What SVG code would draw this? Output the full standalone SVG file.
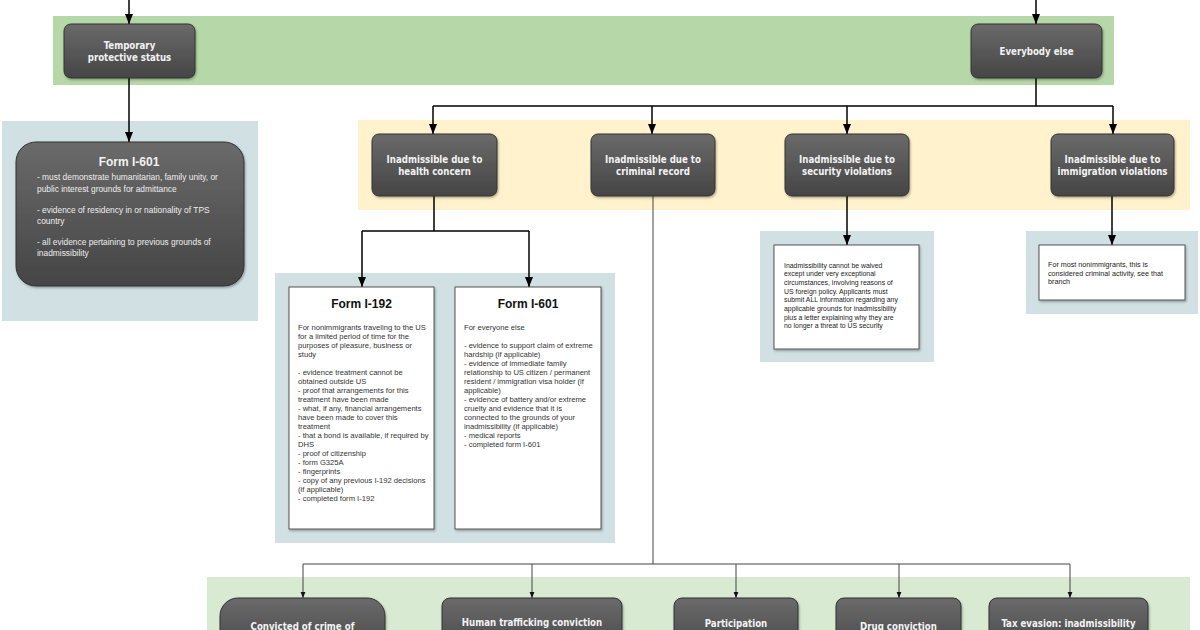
<svg xmlns="http://www.w3.org/2000/svg" width="1200" height="630" viewBox="0 0 1200 630">
<defs>
<linearGradient id="dk" x1="0" y1="0" x2="0" y2="1">
<stop offset="0" stop-color="#6a6a6a"/>
<stop offset="1" stop-color="#454545"/>
</linearGradient>
<filter id="sh" x="-10%" y="-10%" width="130%" height="130%">
<feDropShadow dx="1" dy="1.5" stdDeviation="1" flood-color="#000" flood-opacity="0.3"/>
</filter>
<marker id="ar" viewBox="0 0 10 10" refX="10" refY="5" markerWidth="10" markerHeight="10" markerUnits="userSpaceOnUse" orient="auto">
<path d="M0,1 L10,5 L0,9 Z" fill="#000"/>
</marker>
<marker id="ars" viewBox="0 0 10 10" refX="10" refY="5" markerWidth="6" markerHeight="6" markerUnits="userSpaceOnUse" orient="auto">
<path d="M0,1 L10,5 L0,9 Z" fill="#111"/>
</marker>
</defs>
<style>
.dk{fill:url(#dk);stroke:#333;stroke-width:1;filter:url(#sh)}
.wb{fill:#fff;stroke:#555;stroke-width:1;filter:url(#sh)}
.nl{font-family:"DejaVu Sans Condensed","DejaVu Sans",sans-serif;font-weight:bold;font-size:9.6px;fill:#f2f2f2;text-anchor:middle}
.bt{font-family:"Liberation Sans",Arial,sans-serif;font-size:7.6px;fill:#333}
.st{font-family:"Liberation Sans",Arial,sans-serif;font-size:6.9px;fill:#222}
.wt{font-family:"Liberation Sans",Arial,sans-serif;font-size:8.4px;fill:#eee}
.tt{font-family:"Liberation Sans",Arial,sans-serif;font-weight:bold;font-size:12px;fill:#111;text-anchor:middle}
.c{fill:none;stroke:#000;stroke-width:1.5}
.cs{fill:none;stroke:#444;stroke-width:1}
</style>
<g id="panels">
<rect x="53" y="16" width="1061" height="69" fill="#b6d7a8"/>
<rect x="358" y="120" width="832" height="90" fill="#fff2cc"/>
<rect x="2" y="121" width="256" height="200" fill="#d0e0e3"/>
<rect x="275" y="273" width="340" height="270" fill="#d0e0e3"/>
<rect x="760" y="231" width="174" height="131" fill="#d0e0e3"/>
<rect x="1026" y="231" width="172" height="83" fill="#d0e0e3"/>
<rect x="207" y="577" width="983" height="60" fill="#d9ead3"/>
</g>
<g id="connectors">
<path class="c" d="M129,0 V24" marker-end="url(#ar)"/>
<path class="c" d="M1036,0 V24" marker-end="url(#ar)"/>
<path class="c" d="M129,78 V142" marker-end="url(#ar)"/>
<path class="c" d="M1036,78 V106 M433,106 H1113"/>
<path class="c" d="M433,106 V134" marker-end="url(#ar)"/>
<path class="c" d="M652,106 V134" marker-end="url(#ar)"/>
<path class="c" d="M847,106 V134" marker-end="url(#ar)"/>
<path class="c" d="M1113,106 V134" marker-end="url(#ar)"/>
<path class="c" d="M434,196 V231 M362,231 H529"/>
<path class="c" d="M362,231 V287" marker-end="url(#ar)"/>
<path class="c" d="M529,231 V287" marker-end="url(#ar)"/>
<path class="c" d="M847,196 V245" marker-end="url(#ar)"/>
<path class="c" d="M1112,196 V245" marker-end="url(#ar)"/>
<path class="cs" d="M653,196 V564 M303,564 H1070"/>
<path class="cs" d="M303,564 V598" marker-end="url(#ars)"/>
<path class="cs" d="M532,564 V598" marker-end="url(#ars)"/>
<path class="cs" d="M736,564 V598" marker-end="url(#ars)"/>
<path class="cs" d="M899,564 V598" marker-end="url(#ars)"/>
<path class="cs" d="M1070,564 V598" marker-end="url(#ars)"/>
</g>
<g id="tps">
<rect class="dk" x="64" y="24" width="131" height="54" rx="7"/>
<text class="nl" x="129.5" y="48.5">Temporary</text>
<text class="nl" x="129.5" y="60.5">protective status</text>
</g>
<g id="everybody">
<rect class="dk" x="971" y="24" width="131" height="54" rx="7"/>
<text class="nl" x="1036.5" y="54.5">Everybody else</text>
</g>
<g id="health">
<rect class="dk" x="372" y="134" width="125" height="62" rx="7"/>
<text class="nl" x="434.5" y="162.5">Inadmissible due to</text>
<text class="nl" x="434.5" y="174.5">health concern</text>
</g>
<g id="criminal">
<rect class="dk" x="591" y="134" width="124" height="62" rx="7"/>
<text class="nl" x="653" y="162.5">Inadmissible due to</text>
<text class="nl" x="653" y="174.5">criminal record</text>
</g>
<g id="security">
<rect class="dk" x="785" y="134" width="124" height="62" rx="7"/>
<text class="nl" x="847" y="162.5">Inadmissible due to</text>
<text class="nl" x="847" y="174.5">security violations</text>
</g>
<g id="immigration">
<rect class="dk" x="1051" y="134" width="123" height="62" rx="7"/>
<text class="nl" x="1112.5" y="162.5">Inadmissible due to</text>
<text class="nl" x="1112.5" y="174.5">immigration violations</text>
</g>
<g id="form-i601-tps">
<rect class="dk" x="16" y="142" width="228" height="144" rx="20"/>
<text x="129" y="166" style="font-family:'Liberation Sans',Arial,sans-serif;font-weight:bold;font-size:12px;fill:#f2f2f2;text-anchor:middle">Form I-601</text>
<text class="wt">
<tspan x="37" y="180">- must demonstrate humanitarian, family unity, or</tspan>
<tspan x="37" y="191.5">public interest grounds for admittance</tspan>
<tspan x="37" y="212.5">- evidence of residency in or nationality of TPS</tspan>
<tspan x="37" y="223.5">country</tspan>
<tspan x="37" y="244.5">- all evidence pertaining to previous grounds of</tspan>
<tspan x="37" y="255.5">inadmissibility</tspan>
</text>
</g>
<g id="form-i192">
<rect class="wb" x="289" y="287" width="145" height="242"/>
<text class="tt" x="361.5" y="307.5">Form I-192</text>
<text class="bt">
<tspan x="298" y="329.5">For nonimmigrants traveling to the US</tspan>
<tspan x="298" y="338.5">for a limited period of time for the</tspan>
<tspan x="298" y="347.5">purposes of pleasure, business or</tspan>
<tspan x="298" y="356.5">study</tspan>
<tspan x="298" y="374.5">- evidence treatment cannot be</tspan>
<tspan x="298" y="383.5">obtained outside US</tspan>
<tspan x="298" y="392.5">- proof that arrangements for this</tspan>
<tspan x="298" y="401.5">treatment have been made</tspan>
<tspan x="298" y="410.5">- what, if any, financial arrangements</tspan>
<tspan x="298" y="419.5">have been made to cover this</tspan>
<tspan x="298" y="428.5">treatment</tspan>
<tspan x="298" y="437.5">- that a bond is available, if required by</tspan>
<tspan x="298" y="446.5">DHS</tspan>
<tspan x="298" y="455.5">- proof of citizenship</tspan>
<tspan x="298" y="464.5">- form G325A</tspan>
<tspan x="298" y="473.5">- fingerprints</tspan>
<tspan x="298" y="482.5">- copy of any previous I-192 decisions</tspan>
<tspan x="298" y="491.5">(if applicable)</tspan>
<tspan x="298" y="500.5">- completed form I-192</tspan>
</text>
</g>
<g id="form-i601">
<rect class="wb" x="455" y="287" width="146" height="242"/>
<text class="tt" x="528" y="307.5">Form I-601</text>
<text class="bt">
<tspan x="464" y="329.5">For everyone else</tspan>
<tspan x="464" y="347.5">- evidence to support claim of extreme</tspan>
<tspan x="464" y="356.5">hardship (if applicable)</tspan>
<tspan x="464" y="365.5">- evidence of immediate family</tspan>
<tspan x="464" y="374.5">relationship to US citizen / permanent</tspan>
<tspan x="464" y="383.5">resident / immigration visa holder (if</tspan>
<tspan x="464" y="392.5">applicable)</tspan>
<tspan x="464" y="401.5">- evidence of battery and/or extreme</tspan>
<tspan x="464" y="410.5">cruelty and evidence that it is</tspan>
<tspan x="464" y="419.5">connected to the grounds of your</tspan>
<tspan x="464" y="428.5">inadmissibility (if applicable)</tspan>
<tspan x="464" y="437.5">- medical reports</tspan>
<tspan x="464" y="446.5">- completed form I-601</tspan>
</text>
</g>
<g id="security-note">
<rect class="wb" x="774" y="245" width="145" height="104"/>
<text class="st">
<tspan x="784" y="267.5">Inadmissibility cannot be waived</tspan>
<tspan x="784" y="276.2">except under very exceptional</tspan>
<tspan x="784" y="284.9">circumstances, involving reasons of</tspan>
<tspan x="784" y="293.6">US foreign policy. Applicants must</tspan>
<tspan x="784" y="302.3">submit ALL information regarding any</tspan>
<tspan x="784" y="311">applicable grounds for inadmissibility</tspan>
<tspan x="784" y="319.7">plus a letter explaining why they are</tspan>
<tspan x="784" y="328.4">no longer a threat to US security</tspan>
</text>
</g>
<g id="immigration-note">
<rect class="wb" x="1039" y="245" width="146" height="55"/>
<text class="st" style="font-size:7.2px">
<tspan x="1048" y="267">For most nonimmigrants, this is</tspan>
<tspan x="1048" y="275.7">considered criminal activity, see that</tspan>
<tspan x="1048" y="284.4">branch</tspan>
</text>
</g>
<g id="convicted">
<rect class="dk" x="220" y="598" width="165" height="60" rx="18"/>
<text class="nl" x="302.5" y="629.5">Convicted of crime of</text>
</g>
<g id="trafficking">
<rect class="dk" x="442" y="598" width="180" height="60" rx="8"/>
<text class="nl" x="532" y="625.5">Human trafficking conviction</text>
</g>
<g id="participation">
<rect class="dk" x="674" y="598" width="124" height="60" rx="8"/>
<text class="nl" x="736" y="626.5">Participation</text>
</g>
<g id="drug">
<rect class="dk" x="836" y="598" width="125" height="60" rx="8"/>
<text class="nl" x="898.5" y="629.5">Drug conviction</text>
</g>
<g id="tax">
<rect class="dk" x="989" y="598" width="159" height="60" rx="8"/>
<text class="nl" x="1068.5" y="626.5">Tax evasion: inadmissibility</text>
</g>
</svg>
